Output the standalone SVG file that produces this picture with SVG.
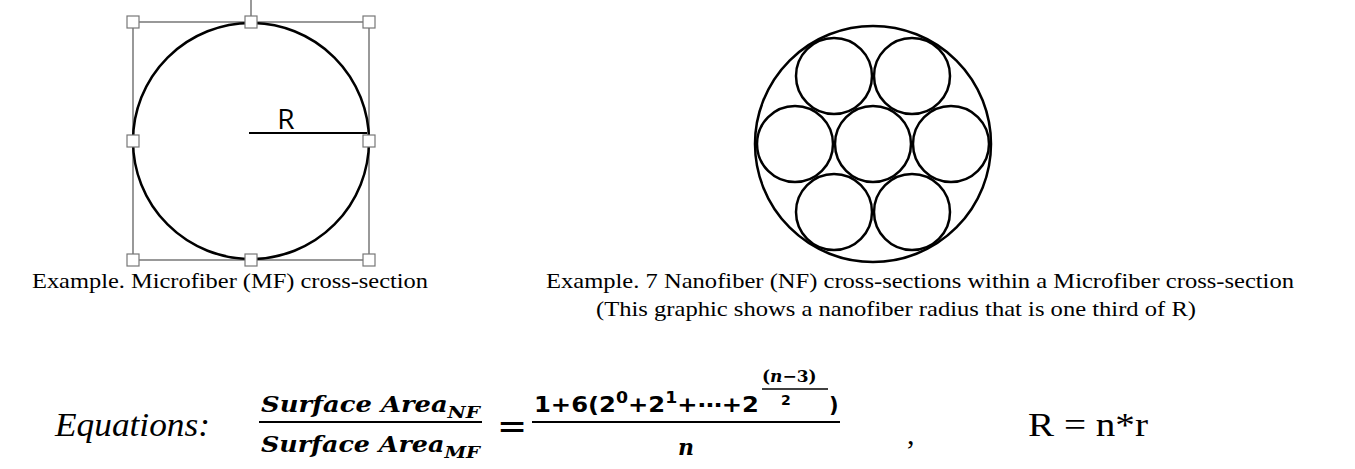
<svg xmlns="http://www.w3.org/2000/svg" width="1355" height="469" viewBox="0 0 1355 469">
<style>
.c{fill:none;stroke:#000;stroke-width:2.5}
.h{fill:#fff;stroke:#777;stroke-width:1.2}
.t{font-family:"Liberation Serif",serif;font-size:21px}
.m{font-family:"DejaVu Serif",serif;font-style:italic;font-size:22px;font-weight:bold}
.n{font-family:"DejaVu Sans",sans-serif;font-size:21px;font-weight:bold}
</style>
<rect width="1355" height="469" fill="#fff"/>
<g id="microfiber">
<line x1="251" y1="0" x2="251" y2="22" stroke="#555" stroke-width="1.2"/>
<rect x="133" y="22" width="236" height="238" fill="none" stroke="#555" stroke-width="1.2"/>
<circle class="c" cx="251" cy="141" r="118"/>
<line x1="249" y1="133" x2="367" y2="133" stroke="#000" stroke-width="2"/>
<text x="286" y="129" font-family="Open Sans,sans-serif" font-size="28" text-anchor="middle">R</text>
<rect class="h" x="127" y="16" width="12" height="12"/><rect class="h" x="245" y="16" width="12" height="12"/><rect class="h" x="363" y="16" width="12" height="12"/>
<rect class="h" x="127" y="135" width="12" height="12"/><rect class="h" x="363" y="135" width="12" height="12"/>
<rect class="h" x="127" y="254" width="12" height="12"/><rect class="h" x="245" y="254" width="12" height="12"/><rect class="h" x="363" y="254" width="12" height="12"/>
<text class="t" x="32" y="288" textLength="396" lengthAdjust="spacingAndGlyphs">Example. Microfiber (MF) cross-section</text>
</g>
<g id="nanofiber">
<circle class="c" cx="873" cy="144" r="118"/>
<circle class="c" cx="873" cy="144" r="38"/>
<circle class="c" cx="834" cy="76" r="38"/>
<circle class="c" cx="912" cy="76" r="38"/>
<circle class="c" cx="795" cy="144" r="38"/>
<circle class="c" cx="951" cy="144" r="38"/>
<circle class="c" cx="834" cy="212" r="38"/>
<circle class="c" cx="912" cy="212" r="38"/>
<text class="t" x="546" y="288" textLength="748" lengthAdjust="spacingAndGlyphs">Example. 7 Nanofiber (NF) cross-sections within a Microfiber cross-section</text>
<text class="t" x="596" y="316" textLength="600" lengthAdjust="spacingAndGlyphs">(This graphic shows a nanofiber radius that is one third of R)</text>
</g>
<g id="equation">
<text x="55" y="436" font-family="Liberation Serif,serif" font-style="italic" font-size="34" textLength="155" lengthAdjust="spacingAndGlyphs">Equations:</text>
<text class="m" x="261" y="412" textLength="219" lengthAdjust="spacingAndGlyphs">Surface Area<tspan font-size="17" dy="6">NF</tspan></text>
<line x1="259" y1="422" x2="482" y2="422" stroke="#000" stroke-width="2"/>
<text class="m" x="261" y="452" textLength="219" lengthAdjust="spacingAndGlyphs">Surface Area<tspan font-size="17" dy="6">MF</tspan></text>
<text x="497" y="438" font-family="DejaVu Sans,sans-serif" font-size="36">=</text>
<text class="n" x="534" y="412" textLength="225" lengthAdjust="spacingAndGlyphs">1+6(2<tspan font-size="15" dy="-9">0</tspan><tspan dy="9">+2</tspan><tspan font-size="15" dy="-9">1</tspan><tspan dy="9">+⋯+2</tspan></text>
<text x="762" y="382" font-family="DejaVu Serif,serif" font-size="17" font-weight="bold">(<tspan font-style="italic">n</tspan>−3)</text>
<line x1="762" y1="389" x2="828" y2="389" stroke="#000" stroke-width="1.5"/>
<text x="781" y="405" font-family="DejaVu Sans,sans-serif" font-size="14" font-weight="bold">2</text>
<text class="n" x="829" y="412">)</text>
<line x1="532" y1="422" x2="840" y2="422" stroke="#000" stroke-width="2"/>
<text class="m" x="678" y="455">n</text>
<text x="907" y="444" font-family="Liberation Serif,serif" font-size="30">,</text>
<text x="1028" y="436" font-family="Liberation Serif,serif" font-size="34" textLength="120" lengthAdjust="spacingAndGlyphs">R = n*r</text>
</g>
</svg>
